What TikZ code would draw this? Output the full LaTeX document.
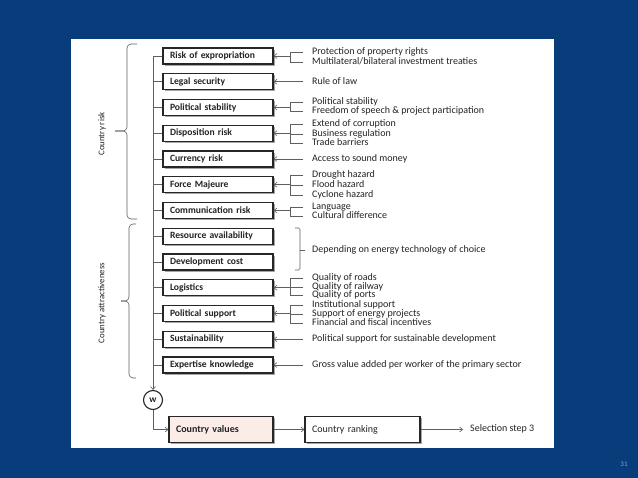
\documentclass[tikz,border=0pt]{standalone}
\usepackage{fontspec}
\setmainfont{Carlito}
\usetikzlibrary{arrows.meta,shadows,calc}
\definecolor{navy}{RGB}{8,60,122}
\definecolor{pinkfill}{RGB}{251,236,232}
\definecolor{txt}{RGB}{35,35,35}
\definecolor{ln}{RGB}{95,95,95}
\definecolor{pgnum}{RGB}{130,165,205}
\begin{document}
\begin{tikzpicture}[x=1pt,y=-1pt,
  box/.style={draw=black!85, line width=1.1pt, fill=white, minimum height=16pt,
    text width=96pt, inner xsep=7pt, inner ysep=1pt, align=left,
    font=\fontsize{9.6}{11}\selectfont\bfseries, text=txt,
    general shadow={fill=black!35, shadow xshift=1.6pt, shadow yshift=-1.6pt}},
  item/.style={anchor=west, inner sep=0pt, font=\fontsize{10}{11}\selectfont,
    text=txt, text height=6.5pt, text depth=1.5pt},
  side/.style={rotate=90, font=\fontsize{8.8}{10}\selectfont, text=txt},
  conn/.style={draw=ln, line width=0.6pt},
  arr/.style={conn, -{Straight Barb[length=3pt,width=5pt]}},
  brk/.style={draw=ln, line width=0.6pt, rounded corners=4pt}
]
\useasboundingbox (0,0) rectangle (638,478);
\fill[navy] (0,0) rectangle (638,478);
\fill[white] (71,39) rectangle (554,448);
\node[text=pgnum, font=\fontsize{7}{8}\selectfont] (pg) at (624,464) {31};

% coordinates
\coordinate (trunk) at (153,56);
\coordinate (brx) at (290,0);

% left boxes
\node[box] (b1) at (218,56) {Risk of expropriation};
\node[box] (b2) at (218,81.75) {Legal security};
\node[box] (b3) at (218,107.5) {Political stability};
\node[box] (b4) at (218,133.25) {Disposition risk};
\node[box] (b5) at (218,159) {Currency risk};
\node[box] (b6) at (218,184.75) {Force Majeure};
\node[box] (b7) at (218,210.5) {Communication risk};
\node[box] (b8) at (218,236.25) {Resource availability};
\node[box] (b9) at (218,262) {Development cost};
\node[box] (b10) at (218,287.75) {Logistics};
\node[box] (b11) at (218,313.5) {Political support};
\node[box] (b12) at (218,339.25) {Sustainability};
\node[box] (b13) at (218,365) {Expertise knowledge};

% trunk and W
\node[draw=black!85, line width=1.1pt, circle, minimum size=19pt, inner sep=0pt,
  font=\fontsize{9.5}{10}\selectfont\bfseries, text=txt] (W) at (153,400) {w};
\draw[arr] (trunk) -- (W.north);
\foreach \b in {b1,b2,b3,b4,b5,b6,b7,b8,b9,b10,b11,b12,b13}
  \draw[conn] (\b.west -| trunk) -- (\b.west);

% bottom row
\node[box, fill=pinkfill, text width=90pt, inner xsep=7pt, minimum height=26pt,
  font=\fontsize{10}{11}\selectfont\bfseries] (cv) at (221,429.5) {Country values};
\node[box, text width=101pt, inner xsep=7pt, minimum height=26pt,
  font=\fontsize{10}{11}\selectfont] (crk) at (362.5,429.5) {Country ranking};
\node[item] (sel) at (470,429.5) {Selection step 3};
\draw[arr] (W.south) |- (cv.west);
\draw[arr] (cv.east) -- (crk.west);
\draw[arr] (crk.east) -- ([xshift=-7pt]sel.west);

% braces on the left
\draw[brk] (137,44) -- (127,44) -- (127,131) -- (115,131);
\draw[brk] (137,219) -- (127,219) -- (127,131) -- (115,131);
\node[side] (lcr) at (102,134) {Country risk};
\draw[brk] (136,224) -- (129,224) -- (129,301) -- (121,301);
\draw[brk] (136,378) -- (129,378) -- (129,301) -- (121,301);
\node[side] (lca) at (102,303) {Country attractiveness};

% right-hand items
\node[item] (p1) at (312,52) {Protection of property rights};
\node[item] (p2) at (312,62) {Multilateral/bilateral investment treaties};
\node[item] (q2) at (312,81.75) {Rule of law};
\node[item] (p3a) at (312,102.5) {Political stability};
\node[item] (p3b) at (312,111.5) {Freedom of speech \& project participation};
\node[item] (p4a) at (312,124) {Extend of corruption};
\node[item] (p4b) at (312,134.5) {Business regulation};
\node[item] (p4c) at (312,143) {Trade barriers};
\node[item] (q5) at (312,159) {Access to sound money};
\node[item] (p6a) at (312,175) {Drought hazard};
\node[item] (p6b) at (312,185.5) {Flood hazard};
\node[item] (p6c) at (312,195) {Cyclone hazard};
\node[item] (p7a) at (312,207.5) {Language};
\node[item] (p7b) at (312,216.5) {Cultural difference};
\node[item] (dep) at (312,250.5) {Depending on energy technology of choice};
\node[item] (p10a) at (312,278) {Quality of roads};
\node[item] (p10b) at (312,287) {Quality of railway};
\node[item] (p10c) at (312,295.5) {Quality of ports};
\node[item] (p11a) at (312,305.5) {Institutional support};
\node[item] (p11b) at (312,314.5) {Support of energy projects};
\node[item] (p11c) at (312,323.5) {Financial and fiscal incentives};
\node[item] (q12) at (312,339.25) {Political support for sustainable development};
\node[item] (q13) at (312,365) {Gross value added per worker of the primary sector};

% grouped connectors
\draw[conn] ([xshift=-9pt]p1.west) -- (p1.west -| brx) -- (p2.west -| brx) -- ([xshift=-9pt]p2.west);
\draw[arr] (b1.east -| brx) -- (b1.east);
\draw[arr] ([xshift=-9pt]q2.west) -- (b2.east);
\draw[conn] ([xshift=-9pt]p3a.west) -- (p3a.west -| brx) -- (p3b.west -| brx) -- ([xshift=-9pt]p3b.west);
\draw[arr] (b3.east -| brx) -- (b3.east);
\draw[conn] ([xshift=-9pt]p4a.west) -- (p4a.west -| brx) -- (p4c.west -| brx) -- ([xshift=-9pt]p4c.west);
\draw[conn] ([xshift=-9pt]p4b.west) -- (p4b.west -| brx);
\draw[arr] (b4.east -| brx) -- (b4.east);
\draw[arr] ([xshift=-9pt]q5.west) -- (b5.east);
\draw[conn] ([xshift=-9pt]p6a.west) -- (p6a.west -| brx) -- (p6c.west -| brx) -- ([xshift=-9pt]p6c.west);
\draw[conn] ([xshift=-9pt]p6b.west) -- (p6b.west -| brx);
\draw[arr] (b6.east -| brx) -- (b6.east);
\draw[conn] ([xshift=-9pt]p7a.west) -- (p7a.west -| brx) -- (p7b.west -| brx) -- ([xshift=-9pt]p7b.west);
\draw[arr] (b7.east -| brx) -- (b7.east);
\draw[brk, rounded corners=1.5pt] (295,228) -- (300,228) -- (300,270) -- (295,270);
\draw[conn] (300,250.5) -- ([xshift=-7pt]dep.west);
\draw[conn] ([xshift=-9pt]p10a.west) -- (p10a.west -| brx) -- (p10c.west -| brx) -- ([xshift=-9pt]p10c.west);
\draw[conn] ([xshift=-9pt]p10b.west) -- (p10b.west -| brx);
\draw[arr] (b10.east -| brx) -- (b10.east);
\draw[conn] ([xshift=-9pt]p11a.west) -- (p11a.west -| brx) -- (p11c.west -| brx) -- ([xshift=-9pt]p11c.west);
\draw[conn] ([xshift=-9pt]p11b.west) -- (p11b.west -| brx);
\draw[arr] (b11.east -| brx) -- (b11.east);
\draw[arr] ([xshift=-9pt]q12.west) -- (b12.east);
\draw[arr] ([xshift=-9pt]q13.west) -- (b13.east);
\end{tikzpicture}
\end{document}
